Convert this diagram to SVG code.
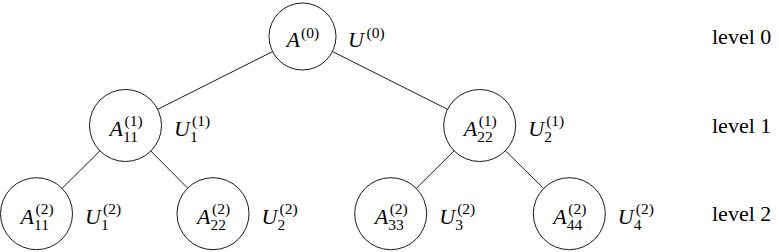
<svg xmlns="http://www.w3.org/2000/svg" width="779" height="252" viewBox="0 0 779 252">
<style>
.n{fill:#fff;stroke:#000;stroke-width:0.9}
.e line{stroke:#000;stroke-width:0.9}
.m{font-family:"Liberation Serif","DejaVu Serif",serif;font-style:italic;font-size:22px;fill:#000}
.s{font-family:"Liberation Serif","DejaVu Serif",serif;font-size:15.5px;fill:#000}
.t{font-family:"Liberation Serif","DejaVu Serif",serif;font-size:22px;fill:#000}
</style>
<rect width="779" height="252" fill="#fff"/>
<g id="edges" class="e">
<line x1="272.57" y1="51.55" x2="157.66" y2="109.33"/>
<line x1="332.44" y1="51.53" x2="447.53" y2="109.34"/>
<line x1="99.93" y1="150.84" x2="62.07" y2="188.36"/>
<line x1="150.85" y1="151.06" x2="187.65" y2="188.14"/>
<line x1="454.13" y1="150.84" x2="416.27" y2="188.36"/>
<line x1="505.35" y1="150.75" x2="543.65" y2="188.45"/>
</g>
<g id="root">
<circle class="n" cx="302.5" cy="36.5" r="33.5"/>
<text class="m" x="286.5" y="46.7">A</text><text class="s" x="301" y="37.6">(0)</text>
<text class="m" x="348" y="46.7">U</text><text class="s" x="366.5" y="37.6">(0)</text>
</g>
<g id="n1_11">
<circle class="n" cx="125.5" cy="125.5" r="36"/>
<text class="m" x="109.5" y="135.7">A</text><text class="s" x="124.5" y="126.2">(1)</text><text class="s" x="123" y="141.7">11</text>
<text class="m" x="174" y="135.7">U</text><text class="s" x="192" y="126.2">(1)</text><text class="s" x="190" y="141.7">1</text>
</g>
<g id="n1_22">
<circle class="n" cx="479.7" cy="125.5" r="36"/>
<text class="m" x="463.7" y="135.7">A</text><text class="s" x="478.7" y="126.2">(1)</text><text class="s" x="477.2" y="141.7">22</text>
<text class="m" x="528.2" y="135.7">U</text><text class="s" x="546.2" y="126.2">(1)</text><text class="s" x="544.2" y="141.7">2</text>
</g>
<g id="n2_11">
<circle class="n" cx="36.5" cy="213.7" r="36"/>
<text class="m" x="20.5" y="223.9">A</text><text class="s" x="35.5" y="214.4">(2)</text><text class="s" x="34" y="229.9">11</text>
<text class="m" x="85" y="223.9">U</text><text class="s" x="103" y="214.4">(2)</text><text class="s" x="101" y="229.9">1</text>
</g>
<g id="n2_22">
<circle class="n" cx="213" cy="213.7" r="36"/>
<text class="m" x="197" y="223.9">A</text><text class="s" x="212" y="214.4">(2)</text><text class="s" x="210.5" y="229.9">22</text>
<text class="m" x="261.5" y="223.9">U</text><text class="s" x="279.5" y="214.4">(2)</text><text class="s" x="277.5" y="229.9">2</text>
</g>
<g id="n2_33">
<circle class="n" cx="390.7" cy="213.7" r="36"/>
<text class="m" x="374.7" y="223.9">A</text><text class="s" x="389.7" y="214.4">(2)</text><text class="s" x="388.2" y="229.9">33</text>
<text class="m" x="439.2" y="223.9">U</text><text class="s" x="457.2" y="214.4">(2)</text><text class="s" x="455.2" y="229.9">3</text>
</g>
<g id="n2_44">
<circle class="n" cx="569.3" cy="213.7" r="36"/>
<text class="m" x="553.3" y="223.9">A</text><text class="s" x="568.3" y="214.4">(2)</text><text class="s" x="566.8" y="229.9">44</text>
<text class="m" x="617.8" y="223.9">U</text><text class="s" x="635.8" y="214.4">(2)</text><text class="s" x="633.8" y="229.9">4</text>
</g>
<g id="levels">
<text class="t" x="712" y="44">level 0</text>
<text class="t" x="712" y="133">level 1</text>
<text class="t" x="712" y="221.2">level 2</text>
</g>
</svg>
